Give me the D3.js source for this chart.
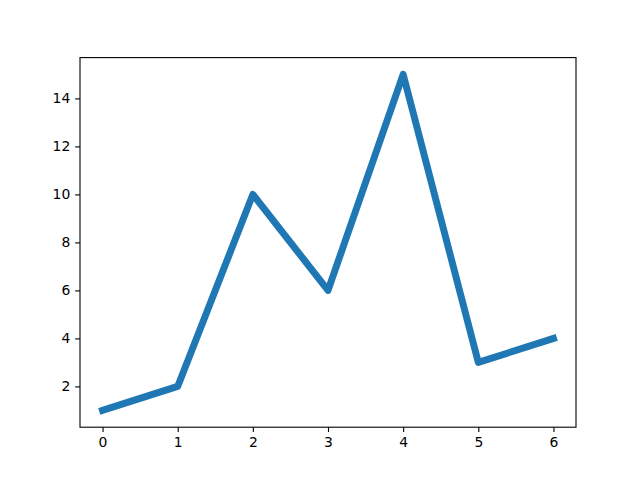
<!DOCTYPE html>
<html>
<head>
<meta charset="utf-8">
<script src="https://cdn.jsdelivr.net/npm/d3@7"></script>
<style>
  body { margin: 0; background: #fff; }
  text { font-family: "DejaVu Sans", sans-serif; }
</style>
</head>
<body>
<svg id="chart" width="640" height="480"></svg>
<script>
var xs = [0, 1, 2, 3, 4, 5, 6]
var ys = [1, 2, 10, 6, 15, 3, 4]
var xTicks = [0, 1, 2, 3, 4, 5, 6]
var yTicks = [2, 4, 6, 8, 10, 12, 14]

// axes box in pixels (window.top is read-only, so no "top" here)
var axL = 80, axR = 576, axT = 57.6, axB = 427.2

var svg = d3.select("#chart")

// matplotlib style 5% margins
var x = d3.scaleLinear().domain([-0.3, 6.3]).range([axL, axR])
var y = d3.scaleLinear().domain([0.3, 15.7]).range([axB, axT])

var line = d3.line()
  .x(function(d, i){ return x(xs[i]) })
  .y(function(d){ return y(d) })

svg.append("path")
  .datum(ys)
  .attr("d", line)
  .attr("fill", "none")
  .attr("stroke", "#1f77b4")
  .attr("stroke-width", 6.94)
  .attr("stroke-linejoin", "round")
  .attr("stroke-linecap", "square")

var xAxis = d3.axisBottom(x).tickValues(xTicks).tickSize(4.86).tickPadding(4.86).tickFormat(d3.format("d"))
var yAxis = d3.axisLeft(y).tickValues(yTicks).tickSize(4.86).tickPadding(4.86).tickFormat(d3.format("d"))

var gx = svg.append("g").attr("transform", "translate(0," + axB + ")").call(xAxis)
var gy = svg.append("g").attr("transform", "translate(" + axL + ",0)").call(yAxis)

;[gx, gy].forEach(function(g){
  g.select(".domain").remove()
  g.selectAll(".tick line").attr("stroke", "#000").attr("stroke-width", 1.1)
  g.selectAll(".tick text").attr("fill", "#000").style("font-size", "13.9px")
})

// frame
svg.append("rect")
  .attr("x", axL).attr("y", axT)
  .attr("width", axR - axL).attr("height", axB - axT)
  .attr("fill", "none")
  .attr("stroke", "#000")
  .attr("stroke-width", 1.1)
</script>
</body>
</html>
